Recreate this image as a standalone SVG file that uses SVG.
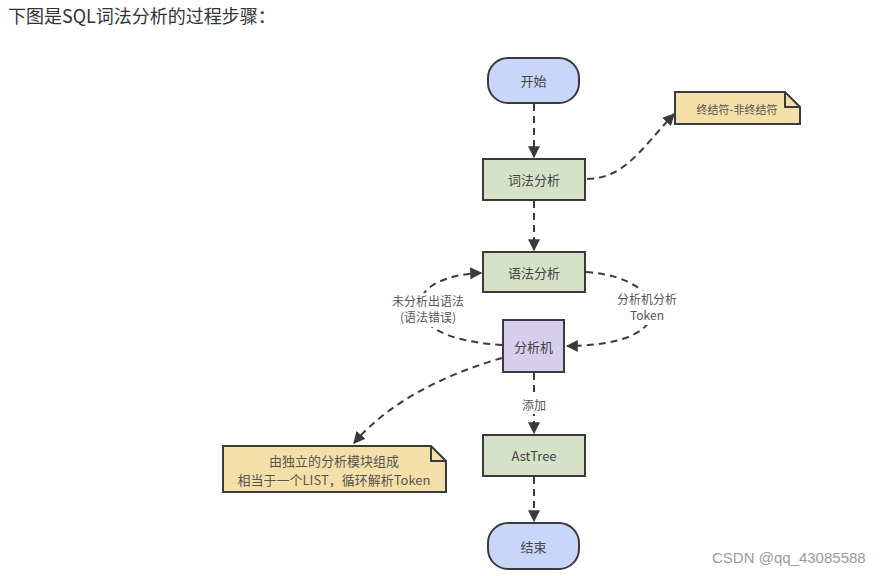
<svg xmlns="http://www.w3.org/2000/svg" width="896" height="576" viewBox="0 0 896 576">
<style>
text{font-family:"Noto Sans CJK SC","Liberation Sans",sans-serif;fill:#444;}
.n{font-size:13px;text-anchor:middle;dominant-baseline:central;}
.lbl{font-size:12px;text-anchor:middle;fill:#555;}
.box{stroke:#3a3a3a;stroke-width:2;}
.term{fill:#c8d6fa;}
.proc{fill:#d5e2c7;}
.mach{fill:#d7cdec;}
.note{fill:#f5dfa8;}
.c{fill:none;stroke:#3a3a3a;stroke-width:2;stroke-dasharray:7 5;marker-end:url(#ah);}
.bg{fill:#fff;}
</style>
<defs>
<marker id="ah" viewBox="0 0 10 10" refX="9" refY="5" markerWidth="6" markerHeight="6" orient="auto" markerUnits="strokeWidth">
<path d="M0,0 L10,5 L0,10 z" fill="#3a3a3a"/>
</marker>
</defs>
<rect width="896" height="576" fill="#fff"/>
<text x="8" y="23" style="font-size:18px;fill:#333">下图是SQL词法分析的过程步骤：</text>

<g id="connectors">
<path class="c" d="M534,104 L534,157"/>
<path class="c" d="M587,179 C625,178 640,150 674,114"/>
<path class="c" d="M534,201 L534,250"/>
<path class="c" d="M586,272 C630,275 660,295 650,320 C640,340 600,346 567,346"/>
<path class="c" d="M502,345 C470,343 420,335 420,305 C420,285 450,274 481,273"/>
<path class="c" d="M534,373 L534,433"/>
<path class="c" d="M502,358 C460,370 395,395 354,443"/>
<path class="c" d="M534,477 L534,521"/>
<rect class="bg" x="519" y="396" width="30" height="18"/>
<text class="lbl" x="534" y="410">添加</text>
<rect class="bg" x="614" y="291" width="66" height="34"/>
<text class="lbl" x="647" y="304">分析机分析</text>
<text class="lbl" x="647" y="320">Token</text>
<rect class="bg" x="390" y="293" width="76" height="34"/>
<text class="lbl" x="428" y="306">未分析出语法</text>
<text class="lbl" x="428" y="322">(语法错误)</text>
</g>

<g id="start"><rect class="box term" x="488" y="58" width="91" height="45" rx="20"/><text class="n" x="533.5" y="80.5">开始</text></g>
<g id="lexer"><rect class="box proc" x="483" y="159" width="102" height="41"/><text class="n" x="534" y="179.5">词法分析</text></g>
<g id="note1"><path class="box note" d="M675,92 H785 L800,107 V124 H675 Z"/><path d="M785,92 V107 H800" fill="none" stroke="#3a3a3a" stroke-width="2"/><text x="737" y="109" style="font-size:11px;text-anchor:middle;dominant-baseline:central;fill:#555">终结符-非终结符</text></g>
<g id="parser"><rect class="box proc" x="483" y="252" width="102" height="40"/><text class="n" x="534" y="272">语法分析</text></g>
<g id="machine"><rect class="box mach" x="503" y="320" width="61" height="52"/><text class="n" x="533.5" y="346">分析机</text></g>
<g id="ast"><rect class="box proc" x="483" y="435" width="102" height="41"/><text class="n" x="534" y="455.5">AstTree</text></g>
<g id="end"><rect class="box term" x="488" y="523" width="91" height="46" rx="20"/><text class="n" x="533.5" y="546">结束</text></g>
<g id="note2"><path class="box note" d="M223,446 H431 L446,461 V492 H223 Z"/><path d="M431,446 V461 H446" fill="none" stroke="#3a3a3a" stroke-width="2"/><text x="334" y="460" style="font-size:13px;text-anchor:middle;dominant-baseline:central;fill:#555">由独立的分析模块组成</text><text x="334" y="479" style="font-size:13px;text-anchor:middle;dominant-baseline:central;fill:#555">相当于一个LIST，循环解析Token</text></g>

<text x="712" y="563" style="font-size:15px;fill:#9a9a9a;font-family:'Liberation Sans',sans-serif">CSDN @qq_43085588</text>
</svg>
